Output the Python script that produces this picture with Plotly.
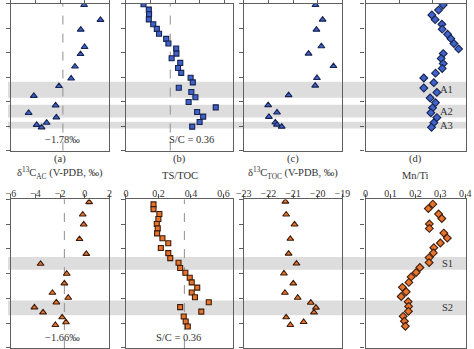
import plotly.graph_objects as go

# ---------------- upper section (blue) ----------------
depth_a = [0.4, 6.5, 10.5, 17.6, 20.5, 25.6, 30.5, 33.6, 37.6, 41.5, 44.6, 46.4, 48.6, 49.5, 50.5]
d13c_ac_up = [-0.06, 1.27, -0.33, -0.02, -0.35, -0.80, -1.11, -2.10, -4.14, -2.37, -4.56, -2.31, -3.10, -3.91, -3.51]

depth_b = [0.1, 2.3, 4.2, 6.3, 8.3, 10.2, 12.2, 14.3, 16.2, 18.2, 20.3, 22.2, 24.1,
           26.2, 28.2, 30.2, 32.1, 34.3, 36.0, 38.2, 40.1, 42.3, 44.2, 46.1, 48.3, 50.2]
ts_toc_up = [0.143, 0.186, 0.188, 0.186, 0.222, 0.251, 0.269, 0.327, 0.345, 0.408, 0.410, 0.371, 0.441,
             0.423, 0.449, 0.525, 0.543, 0.429, 0.531, 0.564, 0.509, 0.729, 0.578, 0.627, 0.598, 0.538]

depth_c = [0.4, 6.4, 10.5, 17.3, 20.3, 25.4, 30.3, 33.4, 37.3, 41.4, 44.4, 46.2, 48.5, 49.4, 50.2]
d13c_toc_up = [-20.09, -19.80, -20.05, -19.85, -20.37, -19.36, -20.03, -20.10, -21.18, -22.01,
               -21.65, -21.98, -21.72, -21.65, -21.46]

depth_d = [0.4, 2.5, 4.5, 6.4, 8.3, 10.3, 12.4, 14.2, 16.2, 18.4, 20.3, 22.3, 24.4,
           26.4, 28.3, 30.3, 32.2, 34.4, 36.2, 38.5, 40.4, 42.5, 44.5, 46.5, 48.6, 50.5]
mn_ti_up = [0.232, 0.218, 0.198, 0.208, 0.228, 0.229, 0.245, 0.255, 0.264, 0.278, 0.232, 0.226, 0.232,
            0.229, 0.209, 0.174, 0.204, 0.174, 0.213, 0.193, 0.209, 0.200, 0.195, 0.213, 0.204, 0.197]

# ---------------- lower section (orange) ----------------
depth_e = [1.1, 6.1, 10.1, 16.0, 22.0, 26.0, 30.0, 33.9, 37.7, 39.7, 41.6, 43.6, 45.6, 47.6, 49.6, 50.7]
d13c_ac_lo = [0.35, -0.17, -0.09, -0.43, 0.12, -3.59, -1.47, -1.66, -2.63, -1.35, -2.31, -4.09,
              -3.39, -1.84, -1.53, -2.39]

depth_f = [2.0, 3.9, 5.9, 7.9, 9.9, 11.7, 13.7, 15.7, 17.7, 19.6, 21.7, 23.7, 25.6,
           27.7, 29.6, 31.6, 33.5, 35.6, 37.6, 39.5, 41.5, 43.5, 45.3, 47.3, 49.3, 51.3]
ts_toc_lo = [0.170, 0.170, 0.206, 0.200, 0.190, 0.196, 0.192, 0.225, 0.261, 0.215, 0.261, 0.273, 0.324,
             0.334, 0.366, 0.393, 0.405, 0.439, 0.405, 0.425, 0.510, 0.334, 0.464, 0.356, 0.368, 0.381]

depth_g = [0.9, 6.1, 10.1, 15.9, 21.9, 25.9, 29.9, 33.9, 37.7, 39.7, 41.7, 43.7, 45.6, 47.6, 49.5, 50.7]
d13c_toc_lo = [-21.31, -21.28, -20.94, -21.11, -21.18, -20.86, -21.37, -20.99, -21.33, -20.81,
               -20.28, -20.07, -20.15, -21.28, -20.57, -21.11]

depth_h = [1.9, 3.7, 5.9, 7.7, 9.9, 11.7, 13.6, 15.6, 17.6, 19.5, 21.6, 23.5, 25.5,
           27.5, 29.5, 31.3, 33.5, 35.5, 37.3, 39.2, 41.3, 43.2, 45.2, 47.2, 49.2, 51.2]
mn_ti_lo = [0.270, 0.252, 0.293, 0.306, 0.256, 0.256, 0.314, 0.328, 0.300, 0.274, 0.272, 0.255, 0.255,
            0.218, 0.203, 0.183, 0.174, 0.148, 0.163, 0.143, 0.171, 0.173, 0.172, 0.151, 0.156, 0.160]

# reference values (dashed lines)
ref_ac_up, ref_sc_up = -1.78, 0.36
ref_ac_lo, ref_sc_lo = -1.66, 0.36

# shaded intervals (depth ranges)
bands_up = [(31.8, 38.4), (41.2, 46.5), (48.2, 51.0)]
bands_lo = [(23.2, 28.4), (40.8, 46.8)]

panel_letters = ["(a)", "(b)", "(c)", "(d)"]
lower_titles = ["δ<sup>13</sup>C<sub>AC</sub> (V-PDB, ‰)", "TS/TOC",
                "δ<sup>13</sup>C<sub>TOC</sub> (V-PDB, ‰)", "Mn/Ti"]

W, H = 474, 349
FONT = "Liberation Serif"
AX = "#5f5f5f"
BLUE, BLUE_EDGE = "#3f63c8", "#16224f"
ORANGE, ORANGE_EDGE = "#e8742c", "#3b1c0c"

x_dom = [(3, 105), (122, 233), (244, 346), (370, 474)]
x_dom = [(a / W, b / W) for a, b in x_dom]
y_dom_up = (1 - 150 / H, 1 - 3 / H)
y_dom_lo = (1 / H, 1 - 199 / H)

ranges_up = [[-6, 2], [0, 0.87], [-23, -19], [0, 0.3]]
ticks_up = [[-6, -4, -2, 0, 2], [0, 0.2, 0.4, 0.6, 0.8], [-23, -22, -21, -20, -19], [0, 0.1, 0.2, 0.3]]
ranges_lo = [[-6, 2], [0, 0.66], [-23, -19], [0, 0.403]]
ticks_lo = [[-6, -4, -2, 0, 2], [0, 0.2, 0.4, 0.6], [-23, -22, -21, -20, -19], [0, 0.1, 0.2, 0.3, 0.4]]

fig = go.Figure()

series = [
    (d13c_ac_up, depth_a, "triangle-up", 6, BLUE, BLUE_EDGE, 1),
    (ts_toc_up, depth_b, "square", 5, BLUE, BLUE_EDGE, 2),
    (d13c_toc_up, depth_c, "triangle-up", 6, BLUE, BLUE_EDGE, 3),
    (mn_ti_up, depth_d, "diamond", 6, BLUE, BLUE_EDGE, 4),
    (d13c_ac_lo, depth_e, "triangle-up", 6, ORANGE, ORANGE_EDGE, 5),
    (ts_toc_lo, depth_f, "square", 5, ORANGE, ORANGE_EDGE, 6),
    (d13c_toc_lo, depth_g, "triangle-up", 6, ORANGE, ORANGE_EDGE, 7),
    (mn_ti_lo, depth_h, "diamond", 6, ORANGE, ORANGE_EDGE, 8),
]
for xs, ys, sym, size, fill, edge, k in series:
    suffix = "" if k == 1 else str(k)
    fig.add_trace(go.Scatter(
        x=xs, y=ys, mode="markers", xaxis="x" + suffix, yaxis="y" + suffix,
        marker=dict(symbol=sym, size=size, color=fill, line=dict(color=edge, width=1.1)),
        showlegend=False, hoverinfo="x+y"))

common = dict(showline=True, mirror=True, linecolor=AX, linewidth=1.2, ticks="outside",
              ticklen=4, tickwidth=1, tickcolor=AX, showgrid=False, zeroline=False)
tickfont = dict(family=FONT, size=10, color="#333333")

layout_axes = {}
for i in range(8):
    k = i + 1
    col = i % 4
    upper = i < 4
    xs = "xaxis" if k == 1 else f"xaxis{k}"
    ys = "yaxis" if k == 1 else f"yaxis{k}"
    ya = "y" if k == 1 else f"y{k}"
    xa = "x" if k == 1 else f"x{k}"
    layout_axes[xs] = dict(
        domain=list(x_dom[col]), anchor=ya, side="top",
        range=(ranges_up if upper else ranges_lo)[col],
        tickvals=(ticks_up if upper else ticks_lo)[col],
        showticklabels=not upper, tickfont=tickfont, ticklabelstandoff=-7, **common)
    layout_axes[ys] = dict(
        domain=list(y_dom_up if upper else y_dom_lo), anchor=xa,
        range=[60, 0], tickvals=[0, 10, 20, 30, 40, 50, 60],
        showticklabels=False, **common)

shapes = []
for y0, y1 in bands_up:
    shapes.append(dict(type="rect", xref="paper", yref="y", x0=0, x1=1, y0=y0, y1=y1,
                       fillcolor="#dddddd", line=dict(width=0), layer="below"))
for y0, y1 in bands_lo:
    shapes.append(dict(type="rect", xref="paper", yref="y5", x0=0, x1=1, y0=y0, y1=y1,
                       fillcolor="#dddddd", line=dict(width=0), layer="below"))
for xv, xr, yr in [(ref_ac_up, "x", "y"), (ref_sc_up, "x2", "y2"),
                   (ref_ac_lo, "x5", "y5"), (ref_sc_lo, "x6", "y6")]:
    shapes.append(dict(type="line", xref=xr, yref=yr + " domain", x0=xv, x1=xv, y0=0, y1=1,
                       line=dict(color="#909090", width=1, dash="dash"), layer="below"))

txt = dict(family=FONT, size=10.5, color="#333333")
ann = []
for col in range(4):
    xr = "x" if col == 0 else f"x{col + 1}"
    ann.append(dict(text=panel_letters[col], xref=xr + " domain", yref="paper",
                    x=0.5, y=1 - 158 / H, yanchor="middle", showarrow=False, font=txt))
    ann.append(dict(text=lower_titles[col], xref=f"x{col + 5} domain", yref="paper",
                    x=0.5, y=1 - 183 / H, yanchor="bottom", showarrow=False, font=txt))

ann += [
    dict(text="−1.78‰", xref="x domain", yref="y", x=0.72, y=55.5, showarrow=False, font=txt),
    dict(text="S/C = 0.36", xref="x2 domain", yref="y2", x=0.61, y=55.5, showarrow=False, font=txt),
    dict(text="−1.66‰", xref="x5 domain", yref="y5", x=0.72, y=55.6, showarrow=False, font=txt),
    dict(text="S/C = 0.36", xref="x6 domain", yref="y6", x=0.72, y=55.6, showarrow=False, font=txt),
    dict(text="A1", xref="x4 domain", yref="y4", x=0.89, y=35.1, showarrow=False, font=txt),
    dict(text="A2", xref="x4 domain", yref="y4", x=0.89, y=43.9, showarrow=False, font=txt),
    dict(text="A3", xref="x4 domain", yref="y4", x=0.89, y=49.6, showarrow=False, font=txt),
    dict(text="S1", xref="x8 domain", yref="y8", x=0.89, y=25.8, showarrow=False, font=txt),
    dict(text="S2", xref="x8 domain", yref="y8", x=0.89, y=43.8, showarrow=False, font=txt),
]

fig.update_layout(
    width=W, height=H, margin=dict(l=0, r=0, t=0, b=0),
    paper_bgcolor="white", plot_bgcolor="rgba(0,0,0,0)",
    shapes=shapes, annotations=ann, font=dict(family=FONT), **layout_axes)

fig.write_html("out.html")
